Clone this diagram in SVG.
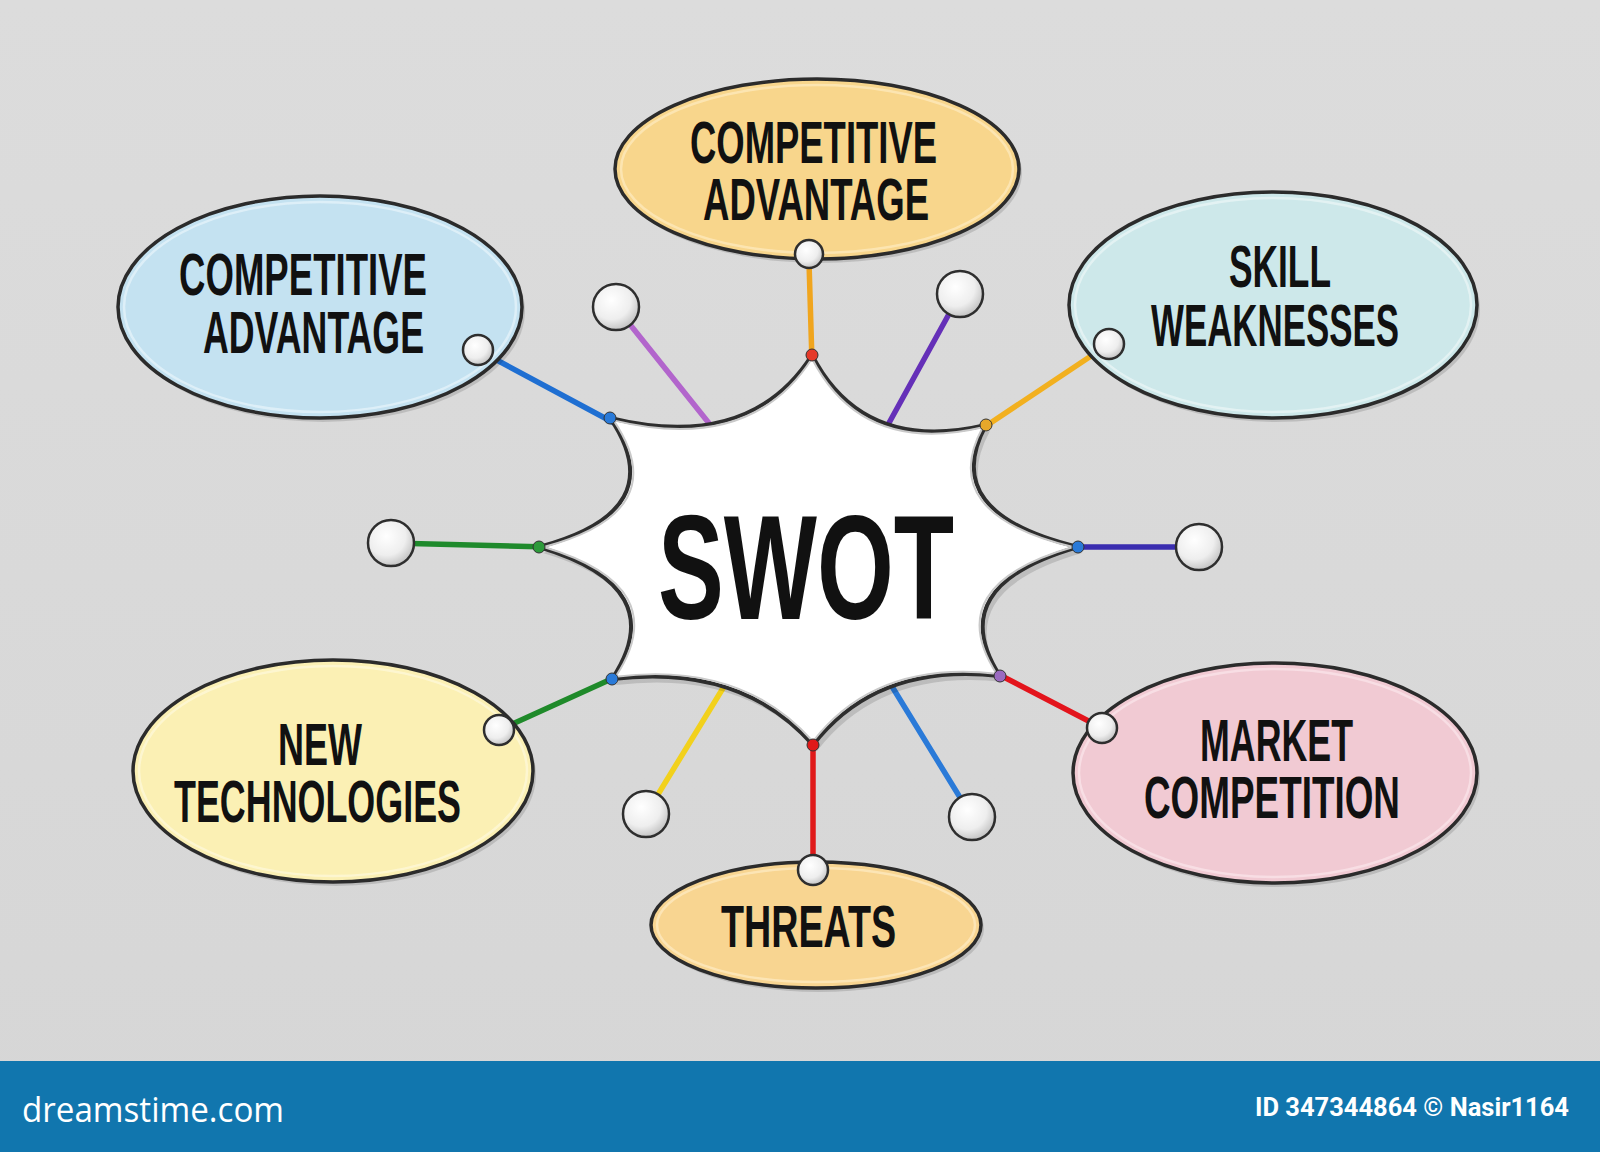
<svg xmlns="http://www.w3.org/2000/svg" width="1600" height="1152" viewBox="0 0 1600 1152">
<defs>
<radialGradient id="ball" cx="0.4" cy="0.35" r="0.7">
<stop offset="0" stop-color="#ffffff"/>
<stop offset="0.6" stop-color="#eeeeee"/>
<stop offset="1" stop-color="#bdbdbd"/>
</radialGradient>
<linearGradient id="bg" x1="0" y1="0" x2="0" y2="1">
<stop offset="0" stop-color="#dcdcdc"/>
<stop offset="1" stop-color="#d6d6d6"/>
</linearGradient>
</defs>
<style>
.ell{stroke:#2b2b2b;stroke-width:3.5}
.rim{fill:none;stroke-width:2.5;opacity:0.75}
.shadow{fill:#000;opacity:0.13}
.lbl{font-family:"Liberation Sans Narrow","Liberation Sans",Arial,sans-serif;font-weight:bold;font-size:60px;fill:#111}
.ball{fill:url(#ball);stroke:#2e2e2e;stroke-width:2.5}
.ln{stroke-width:5.5;stroke-linecap:round;fill:none}
.dot{stroke:#333;stroke-width:1}
</style>
<rect width="1600" height="1152" fill="url(#bg)"/>

<g id="connectors">
<line class="ln" x1="809" y1="262" x2="812" y2="362" stroke="#f0a51e"/>
<line class="ln" x1="478" y1="350" x2="616" y2="424" stroke="#1f6fd2"/>
<line class="ln" x1="616" y1="307" x2="716" y2="432" stroke="#b265cc"/>
<line class="ln" x1="960" y1="294" x2="884" y2="432" stroke="#6530b8"/>
<line class="ln" x1="1109" y1="344" x2="980" y2="430" stroke="#f2b01f"/>
<line class="ln" x1="391" y1="543" x2="548" y2="547" stroke="#1f8a2c"/>
<line class="ln" x1="1199" y1="547" x2="1070" y2="547" stroke="#3a2db0"/>
<line class="ln" x1="499" y1="730" x2="618" y2="676" stroke="#1f8a2a"/>
<line class="ln" x1="646" y1="814" x2="728" y2="680" stroke="#f2d11c"/>
<line class="ln" x1="972" y1="817" x2="888" y2="680" stroke="#2a7ad8"/>
<line class="ln" x1="813" y1="738" x2="813" y2="862" stroke="#e01a1a"/>
<line class="ln" x1="1102" y1="728" x2="994" y2="672" stroke="#e3141c"/>
</g>

<g id="swot">
<path class="shadow" transform="translate(4 6)" d="M812,355 Q863,454 986,425 Q938,513 1078,547 Q942,586 1000,676 Q877,662 813,745 Q741,663 612,679 Q673,587 539,547 Q673,511 610,418 Q750,452 812,355 Z"/>
<path d="M812,355 Q863,454 986,425 Q938,513 1078,547 Q942,586 1000,676 Q877,662 813,745 Q741,663 612,679 Q673,587 539,547 Q673,511 610,418 Q750,452 812,355 Z" fill="#ffffff" stroke="#2e2e2e" stroke-width="4" stroke-linejoin="round"/>
<path transform="translate(808 550) scale(0.982) translate(-808 -550)" d="M812,355 Q863,454 986,425 Q938,513 1078,547 Q942,586 1000,676 Q877,662 813,745 Q741,663 612,679 Q673,587 539,547 Q673,511 610,418 Q750,452 812,355 Z" fill="none" stroke="#c9c9c9" stroke-width="2"/>
<circle class="dot" cx="812" cy="355" r="6" fill="#e53a2a"/>
<circle class="dot" cx="986" cy="425" r="6" fill="#e6a82a"/>
<circle class="dot" cx="1078" cy="547" r="6" fill="#2a7ad8"/>
<circle class="dot" cx="1000" cy="676" r="6" fill="#9a6ac0"/>
<circle class="dot" cx="813" cy="745" r="6" fill="#e01a1a"/>
<circle class="dot" cx="612" cy="679" r="6" fill="#2a7ad8"/>
<circle class="dot" cx="539" cy="547" r="6" fill="#2c9a3a"/>
<circle class="dot" cx="610" cy="418" r="6" fill="#2a7ad8"/>
<text x="658" y="619" font-family="Liberation Sans Narrow, Liberation Sans, Arial, sans-serif" font-weight="bold" font-size="148" fill="#111" textLength="296" lengthAdjust="spacingAndGlyphs">SWOT</text>
</g>

<g id="node-top">
<ellipse class="shadow" cx="820" cy="173" rx="202" ry="90"/>
<ellipse class="ell" cx="817" cy="169" rx="202" ry="90" fill="#f8d68c"/>
<ellipse class="rim" cx="817" cy="169" rx="196" ry="84" stroke="#fde9bd"/>
<text class="lbl" x="690" y="163" textLength="247" lengthAdjust="spacingAndGlyphs">COMPETITIVE</text>
<text class="lbl" x="703" y="220" textLength="226" lengthAdjust="spacingAndGlyphs">ADVANTAGE</text>
<circle class="ball" cx="809" cy="254" r="14"/>
</g>

<g id="node-left">
<ellipse class="shadow" cx="323" cy="311" rx="202" ry="111"/>
<ellipse class="ell" cx="320" cy="307" rx="202" ry="111" fill="#c4e2f1"/>
<ellipse class="rim" cx="320" cy="307" rx="196" ry="105" stroke="#e6f3fa"/>
<text class="lbl" x="179" y="295" textLength="248" lengthAdjust="spacingAndGlyphs">COMPETITIVE</text>
<text class="lbl" x="203" y="353" textLength="221" lengthAdjust="spacingAndGlyphs">ADVANTAGE</text>
<circle class="ball" cx="478" cy="350" r="15"/>
</g>

<g id="node-right">
<ellipse class="shadow" cx="1276" cy="309" rx="204" ry="113"/>
<ellipse class="ell" cx="1273" cy="305" rx="204" ry="113" fill="#cde8ea"/>
<ellipse class="rim" cx="1273" cy="305" rx="198" ry="107" stroke="#eaf6f6"/>
<text class="lbl" x="1229" y="287" textLength="102" lengthAdjust="spacingAndGlyphs">SKILL</text>
<text class="lbl" x="1151" y="346" textLength="248" lengthAdjust="spacingAndGlyphs">WEAKNESSES</text>
<circle class="ball" cx="1109" cy="344" r="15"/>
</g>

<g id="node-lower-left">
<ellipse class="shadow" cx="336" cy="775" rx="200" ry="111"/>
<ellipse class="ell" cx="333" cy="771" rx="200" ry="111" fill="#fbf0b4"/>
<ellipse class="rim" cx="333" cy="771" rx="194" ry="105" stroke="#fdf8d9"/>
<text class="lbl" x="278" y="765" textLength="84" lengthAdjust="spacingAndGlyphs">NEW</text>
<text class="lbl" x="174" y="822" textLength="287" lengthAdjust="spacingAndGlyphs">TECHNOLOGIES</text>
<circle class="ball" cx="499" cy="730" r="15"/>
</g>

<g id="node-lower-right">
<ellipse class="shadow" cx="1278" cy="777" rx="202" ry="110"/>
<ellipse class="ell" cx="1275" cy="773" rx="202" ry="110" fill="#f1cad3"/>
<ellipse class="rim" cx="1275" cy="773" rx="196" ry="104" stroke="#f9e4e9"/>
<text class="lbl" x="1200" y="761" textLength="153" lengthAdjust="spacingAndGlyphs">MARKET</text>
<text class="lbl" x="1144" y="818" textLength="256" lengthAdjust="spacingAndGlyphs">COMPETITION</text>
<circle class="ball" cx="1102" cy="728" r="15"/>
</g>

<g id="node-bottom">
<ellipse class="shadow" cx="819" cy="929" rx="165" ry="63"/>
<ellipse class="ell" cx="816" cy="925" rx="165" ry="63" fill="#f8d591"/>
<ellipse class="rim" cx="816" cy="925" rx="159" ry="57" stroke="#fde9c2"/>
<text class="lbl" x="721" y="947" textLength="175" lengthAdjust="spacingAndGlyphs">THREATS</text>
<circle class="ball" cx="813" cy="870" r="15"/>
</g>

<g id="free-balls">
<circle class="ball" cx="616" cy="307" r="23"/>
<circle class="ball" cx="960" cy="294" r="23"/>
<circle class="ball" cx="391" cy="543" r="23"/>
<circle class="ball" cx="1199" cy="547" r="23"/>
<circle class="ball" cx="646" cy="814" r="23"/>
<circle class="ball" cx="972" cy="817" r="23"/>
</g>

<g id="footer">
<rect x="0" y="1061" width="1600" height="91" fill="#1176ae"/>
<text x="22" y="1122" font-family="Open Sans, DejaVu Sans, sans-serif" font-size="34" fill="#ffffff" textLength="262" lengthAdjust="spacingAndGlyphs">dreamstime.com</text>
<text x="1569" y="1116" text-anchor="end" font-family="Roboto, Liberation Sans, sans-serif" font-weight="bold" font-size="25" fill="#ffffff" textLength="314" lengthAdjust="spacingAndGlyphs">ID 347344864 © Nasir1164</text>
</g>
</svg>
